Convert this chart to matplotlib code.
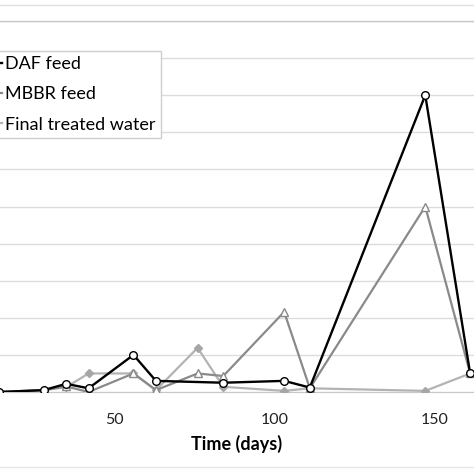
import numpy as np
import matplotlib.pyplot as plt
from matplotlib.lines import Line2D

plt.rcParams['font.family'] = ['Lato', 'DejaVu Sans']

# sampling days
days = [14, 28, 35, 42, 56, 63, 76, 84, 103, 111, 147, 161]

# series values (one gridline = 1 unit)
daf_feed = [0.0, 0.05, 0.22, 0.1, 1.0, 0.3, np.nan, 0.25, 0.3, 0.12, 8.0, 0.5]
mbbr_feed = [0.0, 0.05, 0.15, 0.0, 0.5, 0.05, 0.5, 0.43, 2.16, 0.1, 5.0, 0.5]
final_water = [0.0, 0.05, 0.13, 0.5, 0.5, 0.05, 1.19, 0.14, 0.03, 0.1, 0.03, 0.5]

labels = ['DAF feed', 'MBBR feed', 'Final treated water']
xticks = [50, 100, 150]

fig = plt.figure(figsize=(4.74, 4.74), dpi=100)
ax = fig.add_axes([0, 82 / 474, 1, 371 / 474])

# DAF line has a gap at day 76, join the known points
d = np.array(days, dtype=float)
daf = np.array(daf_feed)
ok = ~np.isnan(daf)

ax.plot(days, final_water, '-', color='#b3b3b3', lw=1.6, marker='D',
        ms=4.5, mfc='#a6a6a6', mec='#a6a6a6', zorder=3)
ax.plot(days, mbbr_feed, '-', color='#8a8a8a', lw=1.6, marker='^',
        ms=5.5, mfc='white', mec='#8a8a8a', zorder=4)
ax.plot(d[ok], daf[ok], '-', color='black', lw=1.7, marker='o',
        ms=5.5, mfc='white', mec='black', zorder=5)

ax.set_xlim(14.37, 162.2)
ax.set_ylim(0, 10)
ax.set_yticks(np.arange(0, 11, 1))
ax.set_yticklabels([])
ax.tick_params(axis='y', length=0)
ax.grid(axis='y', color='#dcdcdc', lw=1)
for s in ['left', 'right', 'top']:
    ax.spines[s].set_visible(False)
ax.spines['bottom'].set_color('#c8c8c8')
ax.set_xticks(xticks)
ax.tick_params(axis='x', length=0, labelsize=11.5, pad=15, colors='#222222')
ax.set_xlabel('Time (days)', fontsize=13, fontweight='bold', labelpad=6)

# chart border lines above and below
fig.add_artist(Line2D([0, 1], [1 - 5 / 474, 1 - 5 / 474], color='#e0e0e0', lw=1))
fig.add_artist(Line2D([0, 1], [1 - 21 / 474, 1 - 21 / 474], color='#c8c8c8', lw=1))
fig.add_artist(Line2D([0, 1], [7 / 474, 7 / 474], color='#e8e8e8', lw=1))

# legend: only the line ends of the keys show at the left edge
handles = [Line2D([], [], color='black', lw=1.7),
           Line2D([], [], color='#8a8a8a', lw=1.6),
           Line2D([], [], color='#b3b3b3', lw=1.6)]
leg = fig.legend(handles, labels, loc='upper right',
                 bbox_to_anchor=(161 / 474, 1 - 51 / 474), fontsize=13,
                 handlelength=2.0, handletextpad=0.15, borderpad=0.3,
                 labelspacing=0.78, fancybox=False, framealpha=1,
                 edgecolor='#cfcfcf', borderaxespad=0)
leg.get_frame().set_linewidth(1)

fig.savefig('out.png', dpi=100)
